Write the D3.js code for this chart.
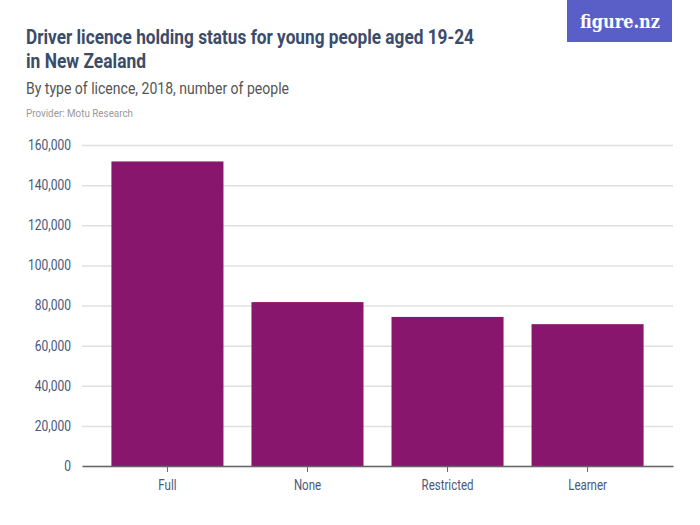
<!DOCTYPE html>
<html>
<head>
<meta charset="utf-8">
<script src="https://cdn.jsdelivr.net/npm/d3@7.9.0/dist/d3.min.js"></script>
<style>
  body { margin: 0; background: #fff; }
  svg { display: block; font-family: "Roboto", sans-serif; }
</style>
</head>
<body>
<div id="chart"></div>
<script>
// data
const categories = ['Full', 'None', 'Restricted', 'Learner'];
const values = [151800, 81700, 74300, 70700];
const yTicks = [0, 20000, 40000, 60000, 80000, 100000, 120000, 140000, 160000];

const width = 700;
const height = 525;
const margin = { top: 145, right: 27, bottom: 59, left: 82 };

const svg = d3.select('#chart')
    .append('svg')
    .attr('width', width)
    .attr('height', height);

// squeeze text to look like a condensed face
function condense(sel, factor) {
    sel.each(function () {
        const w = this.getComputedTextLength();
        d3.select(this).attr('textLength', w * factor).attr('lengthAdjust', 'spacingAndGlyphs');
    });
}

// titles
svg.append('text')
    .attr('x', 26).attr('y', 44)
    .attr('fill', '#3b4c6b')
    .style('font-size', '21px')
    .style('font-weight', 'bold')
    .attr('textLength', 448).attr('lengthAdjust', 'spacingAndGlyphs')
    .text('Driver licence holding status for young people aged 19-24');
svg.append('text')
    .attr('x', 26).attr('y', 68)
    .attr('fill', '#3b4c6b')
    .style('font-size', '21px')
    .style('font-weight', 'bold')
    .attr('textLength', 120).attr('lengthAdjust', 'spacingAndGlyphs')
    .text('in New Zealand');
svg.append('text')
    .attr('x', 26).attr('y', 94)
    .attr('fill', '#555')
    .style('font-size', '17px')
    .attr('textLength', 263).attr('lengthAdjust', 'spacingAndGlyphs')
    .text('By type of licence, 2018, number of people');
svg.append('text')
    .attr('x', 26).attr('y', 117)
    .attr('fill', '#999')
    .style('font-size', '11px')
    .attr('textLength', 107).attr('lengthAdjust', 'spacingAndGlyphs')
    .text('Provider: Motu Research');

// logo
svg.append('rect')
    .attr('x', 567).attr('y', 0)
    .attr('width', 105).attr('height', 42)
    .attr('fill', '#5a5fc8');
svg.append('text')
    .attr('x', 580).attr('y', 28)
    .attr('fill', '#fff')
    .style('font-family', '"DejaVu Serif", serif')
    .style('font-size', '19px')
    .style('font-weight', 'bold')
    .attr('textLength', 80).attr('lengthAdjust', 'spacingAndGlyphs')
    .text('figure.nz');

const x = d3.scaleBand()
    .domain(categories)
    .range([margin.left, width - margin.right])
    .paddingInner(0.2)
    .paddingOuter(0.21);

const y = d3.scaleLinear()
    .domain([0, 160000])
    .range([height - margin.bottom, margin.top]);

// gridlines
svg.append('g')
    .attr('class', 'gridlines')
    .attr('transform', `translate(${margin.left}, 0)`)
    .call(d3.axisLeft(y).tickValues(yTicks).tickFormat('').tickSize(-(width - margin.left - margin.right)))
    .call(g => g.select('.domain').remove())
    .call(g => g.selectAll('line').attr('stroke', '#e0e0e0').attr('stroke-width', 1.5));

// y labels
svg.append('g')
    .attr('class', 'y-axis')
    .attr('transform', `translate(${margin.left}, 0)`)
    .call(d3.axisLeft(y).tickValues(yTicks).tickSize(0).tickPadding(11).tickFormat(d3.format(',')))
    .call(g => g.select('.domain').remove())
    .call(g => g.selectAll('text')
        .attr('fill', '#4a5878')
        .style('font-size', '14px')
        .style('font-family', '"Roboto", sans-serif')
        .call(condense, 0.86));

// bars
svg.append('g')
    .selectAll('rect')
    .data(categories)
    .join('rect')
    .attr('x', d => x(d))
    .attr('y', (d, i) => y(values[i]))
    .attr('width', x.bandwidth())
    .attr('height', (d, i) => y(0) - y(values[i]))
    .attr('fill', '#88166d');

// x axis
svg.append('g')
    .attr('class', 'x-axis')
    .attr('transform', `translate(0, ${y(0)})`)
    .call(d3.axisBottom(x).tickSize(6).tickSizeOuter(0).tickPadding(8))
    .call(g => g.select('.domain').attr('stroke', '#666').attr('stroke-width', 1.5))
    .call(g => g.selectAll('.tick line').attr('stroke', '#666'))
    .call(g => g.selectAll('text')
        .attr('fill', '#4a5878')
        .style('font-size', '14px')
        .style('font-family', '"Roboto", sans-serif')
        .call(condense, 0.82));
</script>
</body>
</html>
